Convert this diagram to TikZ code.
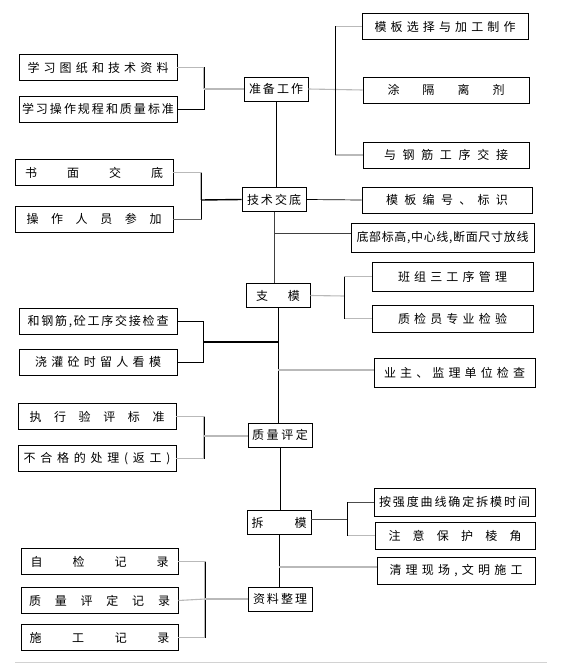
\documentclass[tikz,border=0pt]{standalone}
\usepackage{fontspec}
\newfontfamily\cjk{Noto Sans CJK SC}
\usepackage{tikz}
\usetikzlibrary{calc}

% spread the characters of #2 over a box #1 wide
\newcommand\spreadtext[2]{\makebox[#1][s]{\spreadfirst#2\relax}}
\def\spreadfirst#1{#1\spreadnext}
\def\spreadnext#1{\ifx\relax#1\else\hfill#1\expandafter\spreadnext\fi}

\begin{document}
\begin{tikzpicture}[
      x=1pt, y=-1pt,
      block/.style ={rectangle, draw=black, line width=0.9pt, inner sep=0pt,
                     minimum height=26pt, font=\cjk\fontsize{12}{14}\selectfont},
      side/.style  ={block, minimum width=158pt},
      task/.style  ={block, minimum width=165pt},
      stage/.style ={block, minimum width=64pt, minimum height=24pt},
      link/.style  ={draw=black, line width=0.7pt},
      pale/.style  ={draw=gray!55, line width=1.1pt},
      heavy/.style ={draw=black, line width=1.4pt}
    ]
    \useasboundingbox (0,0) rectangle (573,663);

    % main steps
    \node [stage] (prep)  at (276,89)    {\spreadtext{54pt}{准备工作}} ;
    \node [stage] (brief) at (274,199.5) {\spreadtext{54pt}{技术交底}} ;
    \node [stage] (erect) at (278,295.5) {\spreadtext{44pt}{支模}} ;
    \node [stage] (eval)  at (280,435)   {\spreadtext{56pt}{质量评定}} ;
    \node [stage] (strip) at (279,522.5) {\spreadtext{55pt}{拆模}} ;
    \node [stage] (docs)  at (280,599)   {\spreadtext{54pt}{资料整理}} ;

    % left column
    \node [side] (s1) at (98,67.5)    {\spreadtext{141pt}{学习图纸和技术资料}} ;
    \node [side] (s2) at (98,109)     {\spreadtext{152pt}{学习操作规程和质量标准}} ;
    \node [side] (d1) at (94,172.5)   {\spreadtext{138pt}{书面交底}} ;
    \node [side] (d2) at (94,219)     {\spreadtext{135pt}{操作人员参加}} ;
    \node [side] (c1) at (98,321.5)   {\spreadtext{141pt}{和钢筋,砼工序交接检查}} ;
    \node [side] (c2) at (98,362)     {\spreadtext{126pt}{浇灌砼时留人看模}} ;
    \node [side] (q1) at (97,416.5)   {\spreadtext{135pt}{执行验评标准}} ;
    \node [side] (q2) at (97,458.5)   {\spreadtext{147pt}{不合格的处理(返工)}} ;
    \node [side, minimum width=157pt] (r1) at (99.5,561.5) {\spreadtext{138pt}{自检记录}} ;
    \node [side, minimum width=157pt] (r2) at (99.5,600.5) {\spreadtext{141pt}{质量评定记录}} ;
    \node [side, minimum width=157pt] (r3) at (99.5,637.5) {\spreadtext{140pt}{施工记录}} ;

    % right column
    \node [task, minimum width=166pt] (p1) at (445,26.5) {\spreadtext{141pt}{模板选择与加工制作}} ;
    \node [task, minimum width=166pt] (p2) at (446,90)   {\spreadtext{117pt}{涂隔离剂}} ;
    \node [task, minimum width=166pt] (p3) at (446,155)  {\spreadtext{124pt}{与钢筋工序交接}} ;
    \node [task, minimum width=170pt] (b1) at (447,200)  {\spreadtext{122pt}{模板编号、标识}} ;
    \node [task, minimum width=183pt, minimum height=29pt] (b2) at (442.5,237.5) {\spreadtext{172pt}{底部标高,中心线,断面尺寸放线}} ;
    \node [task, minimum width=161pt, minimum height=29pt] (e1) at (452.5,276.5) {\spreadtext{109pt}{班组三工序管理}} ;
    \node [task, minimum width=161pt, minimum height=27pt] (e2) at (452.5,318.5) {\spreadtext{109pt}{质检员专业检验}} ;
    \node [task, minimum width=161pt, minimum height=29pt] (e3) at (454.5,372.5) {\spreadtext{141pt}{业主、监理单位检查}} ;
    \node [task, minimum width=161pt, minimum height=28pt] (t1) at (454.5,502)   {\spreadtext{151pt}{按强度曲线确定拆模时间}} ;
    \node [task, minimum width=160pt, minimum height=27pt] (t2) at (455,535.5)   {\spreadtext{133pt}{注意保护棱角}} ;
    \node [task, minimum width=158pt, minimum height=27pt] (t3) at (456,570.5)   {\spreadtext{133pt}{清理现场,文明施工}} ;

    % bracket bars
    \coordinate (ks) at (204,89) ;
    \coordinate (kp) at (335,89) ;
    \coordinate (kd) at (201,200) ;
    \coordinate (kc) at (203,342) ;
    \coordinate (ke) at (344,296) ;
    \coordinate (kq) at (204,436) ;
    \coordinate (kt) at (347,519) ;
    \coordinate (kr) at (205,599) ;

    % spine
    \draw [link] (prep.south) -- (prep.south |- brief.north) ;
    \draw [link, draw=black!75] (brief.south) -- (brief.south |- erect.north) ;
    \draw [link] (erect.south) -- (erect.south |- eval.north) ;
    \draw [link] (eval.south) -- (eval.south |- strip.north) ;
    \draw [link] (strip.south) -- (strip.south |- docs.north) ;

    % preparation
    \draw [pale] (s1.east) -| (ks) ;
    \draw [link] (s2.east) -| (ks) ;
    \draw [link] (ks |- s1.east) -- (ks |- s2.east) ;
    \draw [pale] (ks) -- (prep.west) ;
    \draw [pale] (prep.east) -- (p2.west) ;
    \draw [pale] (kp |- p1.west) -- (p1.west) ;
    \draw [pale] (kp |- p3.west) -- (p3.west) ;
    \draw [link] (kp |- p1.west) -- (kp |- p3.west) ;

    % briefing
    \draw [pale] (d1.east) -| (kd) ;
    \draw [link, draw=black!60] (d2.east) -| (kd) ;
    \draw [link] (kd |- d1.east) -- (kd |- d2.east) ;
    \draw [heavy] (kd) -- (brief.west) ;
    \draw [link] (brief.east) -- (b1.west) ;
    \draw [link, draw=black!75] (brief.south |- 0,233) -- ([yshift=4.5pt]b2.west) ;

    % formwork
    \draw [pale] (erect.east) -- (ke) ;
    \draw [pale] (ke |- e1.west) -- (e1.west) ;
    \draw [pale] (ke |- e2.west) -- (e2.west) ;
    \draw [link] (ke |- e1.west) -- (ke |- e2.west) ;
    \draw [link] (c1.east) -| (kc) ;
    \draw [link] (c2.east) -| (kc) ;
    \draw [link] (kc |- c1.east) -- (kc |- c2.east) ;
    \draw [heavy] (kc) -- (erect.south |- kc) ;
    \draw [pale] (erect.south |- 0,370) -- ([yshift=2.5pt]e3.west) ;

    % evaluation
    \draw [pale] (q1.east) -| (kq) ;
    \draw [pale] (q2.east) -| (kq) ;
    \draw [link] (kq |- q1.east) -- (kq |- q2.east) ;
    \draw [pale] (kq) -- (eval.west |- kq) ;

    % stripping
    \draw [link, draw=black!70] (strip.east |- kt) -- (kt) ;
    \draw [link, draw=black!70] (kt |- t1.west) -- (t1.west) ;
    \draw [pale] (kt |- t2.west) -- (t2.west) ;
    \draw [link] (kt |- t1.west) -- (kt |- t2.west) ;
    \draw [pale] (strip.south |- 0,567) -- ([yshift=3.5pt]t3.west) ;

    % records
    \draw [pale] (r1.east) -| (kr) ;
    \draw [pale] (r2.east) -- (kr) ;
    \draw [pale] (r3.east) -| (kr) ;
    \draw [link] (kr |- r1.east) -- (kr |- r3.east) ;
    \draw [pale] (kr) -- (docs.west) ;

    % page rule
    \draw [draw=gray!35, line width=1pt] (15,662) -- (547,662) ;
  \end{tikzpicture}
\end{document}
